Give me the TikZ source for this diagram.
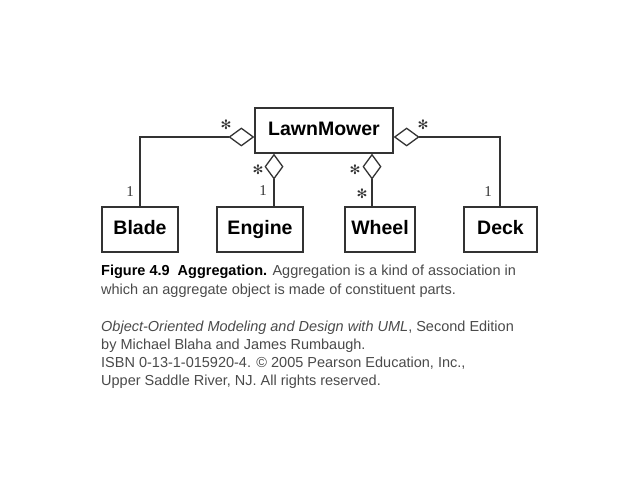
\documentclass[tikz,border=0pt]{standalone}
\usepackage{fontspec}
\setmainfont{Liberation Sans}
\newfontfamily\starfont{DejaVu Sans}
\newfontfamily\onefont{Liberation Serif}
\usetikzlibrary{arrows.meta}
\definecolor{ink}{HTML}{333333}
\definecolor{grey}{HTML}{4A4A4A}

\begin{document}
\begin{tikzpicture}
[x=1pt, y=-1pt, inner sep=0pt,
cls/.style={draw=ink, line width=1.3pt, minimum height=45pt, text height=14pt, text depth=4pt, font=\fontsize{19.5}{21}\selectfont\bfseries, text=black},
agg/.style={draw=ink, line width=1.3pt, -{Diamond[open, length=26pt, width=19pt]}},
many/.style={font=\starfont\fontsize{13}{13}\selectfont, text=ink},
one/.style={font=\onefont\fontsize{15}{15}\selectfont, text=ink},
captxt/.style={anchor=base west, font=\fontsize{14.5}{16}\selectfont, text=grey}]
\useasboundingbox (0,0) rectangle (638,478);

% classes
\node[cls, minimum width=138pt] (mower) at (324,130.5) {LawnMower};
\node[cls, minimum width=76pt] (blade) at (140,229.5) {Blade};
\node[cls, minimum width=86pt] (engine) at (260,229.5) {Engine};
\node[cls, minimum width=70pt] (wheel) at (380,229.5) {Wheel};
\node[cls, minimum width=73pt] (deck) at (500.5,229.5) {Deck};

% attachment points on the whole
\coordinate (aw) at ([yshift=-6.5pt]mower.west);
\coordinate (ae) at ([yshift=-6.5pt]mower.east);
\coordinate (asl) at ([xshift=-50pt]mower.south);
\coordinate (asr) at ([xshift=48pt]mower.south);

% aggregations
\draw[agg] (blade.north) |- (aw);
\draw[agg] (engine.north -| asl) -- (asl);
\draw[agg] (wheel.north -| asr) -- (asr);
\draw[agg] ([xshift=-0.5pt]deck.north) |- (ae);

% multiplicities
\node[many] (mb) at (226,125) {✻};
\node[one]  (ob) at (130,192) {1};
\node[many] (me) at (258,170) {✻};
\node[one]  (oe) at (263,191) {1};
\node[many] (mw) at (355,170) {✻};
\node[many] (mw2) at (362,194) {✻};
\node[many] (md) at (423,125) {✻};
\node[one]  (od) at (488,192) {1};

% caption
\node[captxt] (c1) at (101,276) {\textcolor{black}{\bfseries Figure 4.9\ \ Aggregation.} Aggregation is a kind of association in};
\node[captxt] (c2) at (101,295) {which an aggregate object is made of constituent parts.};
\node[captxt] (c3) at (101,332) {\textit{Object-Oriented Modeling and Design with UML}, Second Edition};
\node[captxt] (c4) at (101,350) {by Michael Blaha and James Rumbaugh.};
\node[captxt] (c5) at (101,368) {ISBN 0-13-1-015920-4. © 2005 Pearson Education, Inc.,};
\node[captxt] (c6) at (101,386) {Upper Saddle River, NJ. All rights reserved.};
\end{tikzpicture}
\end{document}
